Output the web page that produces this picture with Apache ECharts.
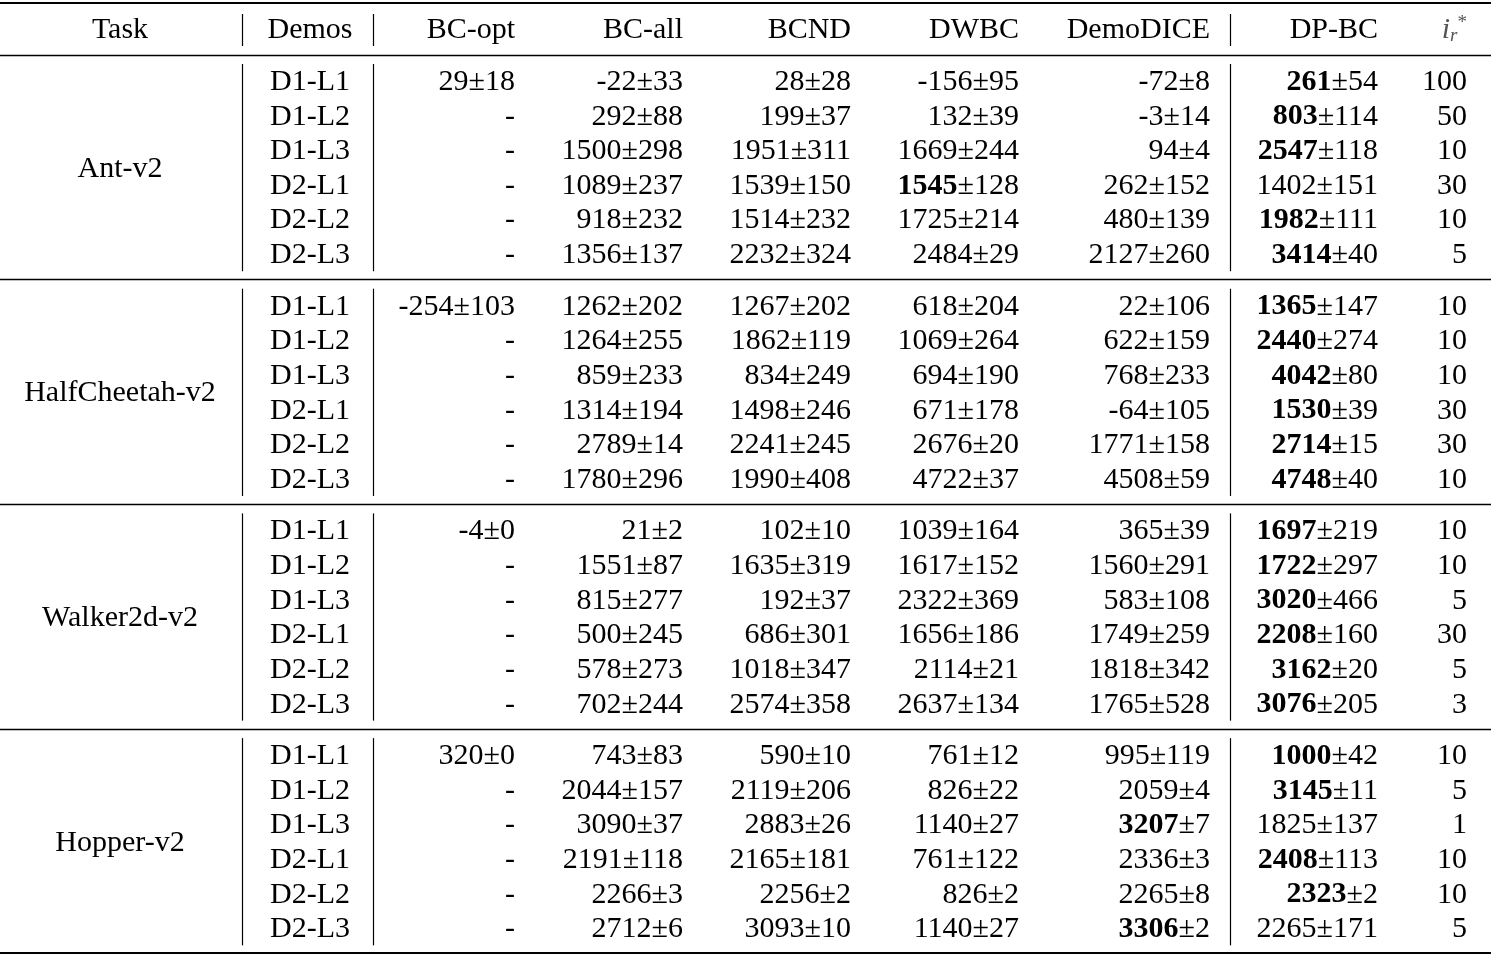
<!DOCTYPE html>
<html><head><meta charset="utf-8">
<script src="https://cdn.jsdelivr.net/npm/echarts@6/dist/echarts.min.js"></script>
<style>html,body{margin:0;padding:0;background:#fff}#c{width:1491px;height:957px}</style>
</head><body><div id="c"></div>
<script>
const headers = ["Task","Demos","BC-opt","BC-all","BCND","DWBC","DemoDICE","DP-BC","i_r*"];
const tasks = ["Ant-v2","HalfCheetah-v2","Walker2d-v2","Hopper-v2"];
const demos = ["D1-L1","D1-L2","D1-L3","D2-L1","D2-L2","D2-L3"];
const bcOpt = ["29±18","-","-","-","-","-", "-254±103","-","-","-","-","-", "-4±0","-","-","-","-","-", "320±0","-","-","-","-","-"];
const bcAll = ["-22±33","292±88","1500±298","1089±237","918±232","1356±137",
 "1262±202","1264±255","859±233","1314±194","2789±14","1780±296",
 "21±2","1551±87","815±277","500±245","578±273","702±244",
 "743±83","2044±157","3090±37","2191±118","2266±3","2712±6"];
const bcnd = ["28±28","199±37","1951±311","1539±150","1514±232","2232±324",
 "1267±202","1862±119","834±249","1498±246","2241±245","1990±408",
 "102±10","1635±319","192±37","686±301","1018±347","2574±358",
 "590±10","2119±206","2883±26","2165±181","2256±2","3093±10"];
const dwbc = ["-156±95","132±39","1669±244","1545±128","1725±214","2484±29",
 "618±204","1069±264","694±190","671±178","2676±20","4722±37",
 "1039±164","1617±152","2322±369","1656±186","2114±21","2637±134",
 "761±12","826±22","1140±27","761±122","826±2","1140±27"];
const demoDice = ["-72±8","-3±14","94±4","262±152","480±139","2127±260",
 "22±106","622±159","768±233","-64±105","1771±158","4508±59",
 "365±39","1560±291","583±108","1749±259","1818±342","1765±528",
 "995±119","2059±4","3207±7","2336±3","2265±8","3306±2"];
const dpbc = ["261±54","803±114","2547±118","1402±151","1982±111","3414±40",
 "1365±147","2440±274","4042±80","1530±39","2714±15","4748±40",
 "1697±219","1722±297","3020±466","2208±160","3162±20","3076±205",
 "1000±42","3145±11","1825±137","2408±113","2323±2","2265±171"];
const ir = ["100","50","10","30","10","5", "10","10","10","30","30","10",
 "10","10","5","30","5","3", "10","5","1","10","10","5"];
// index (0=BC-opt..5=DP-BC) of bold entry per row
const best = [5,5,5,3,5,5, 5,5,5,5,5,5, 5,5,5,5,5,5, 5,5,4,5,5,4];

// layout
const colX = [120,310,515,683,851,1019,1210,1378,1467];
const headY = 30, row0 = 82, rowH = 34.65, groupH = 224.7;
const rowY = (g,r)=> row0 + g*groupH + r*rowH;
const font = "'Liberation Serif','Times New Roman',serif";
const FS = 30;

const cols = [bcOpt,bcAll,bcnd,dwbc,demoDice,dpbc,ir];
const pts = [];
function add(x,y,text,align,bold){
  let f;
  if(bold){ const p=text.split('±'); f='{b|'+p[0]+'}{n|±'+p[1]+'}'; }
  else f='{n|'+text+'}';
  pts.push({value:[x,y],label:{formatter:f,align:align}});
}
headers.forEach((h,i)=>{
  if(i===8){ pts.push({value:[colX[8],headY],label:{align:'right',formatter:'{it|i}{sub|r}{sup|*}'}}); }
  else add(colX[i],headY,h,i<2?'center':'right',false);
});
tasks.forEach((t,g)=>{
  add(colX[0],(rowY(g,2)+rowY(g,3))/2,t,'center',false);
  demos.forEach((d,r)=>{
    const k=g*6+r, y=rowY(g,r);
    add(colX[1],y,d,'center',false);
    cols.forEach((c,j)=>add(colX[j+2],y,c[k],'right',best[k]===j));
  });
});

const segs = [];
const hline=(y,w)=>segs.push({coords:[[0,y],[1491,y]],lineStyle:{width:w}});
hline(3,2); hline(55,1.3);
[279,504,729].forEach(y=>hline(y,1.3)); hline(953,2);
[242,373,1230].forEach(x=>{
  segs.push({coords:[[x,14],[x,46]],lineStyle:{width:1.2}});
  tasks.forEach((t,g)=>segs.push({coords:[[x,rowY(g,0)-18],[x,rowY(g,5)+16]],lineStyle:{width:1.2}}));
});

const chart = echarts.init(document.getElementById('c'));
chart.setOption({
  animation:false,
  grid:{left:0,right:0,top:0,bottom:0},
  xAxis:{type:'value',min:0,max:1491,show:false},
  yAxis:{type:'value',min:0,max:957,inverse:true,show:false},
  series:[
    {type:'lines',coordinateSystem:'cartesian2d',data:segs,lineStyle:{color:'#000',opacity:1},silent:true},
    {type:'scatter',symbolSize:0,data:pts,silent:true,itemStyle:{opacity:1},
     label:{show:true,position:[0,0],verticalAlign:'middle',color:'#000',opacity:1,
       rich:{
         n:{fontFamily:font,fontSize:FS,color:'#000'},
         b:{fontFamily:font,fontSize:FS,fontWeight:'bold',color:'#000'},
         it:{fontFamily:font,fontSize:FS,fontStyle:'italic',color:'#555'},
         sub:{fontFamily:font,fontSize:19,fontStyle:'italic',color:'#555',padding:[12,0,0,0]},
         sup:{fontFamily:font,fontSize:19,color:'#555',padding:[0,0,14,0]}
       }}}
  ]
});
</script></body></html>
